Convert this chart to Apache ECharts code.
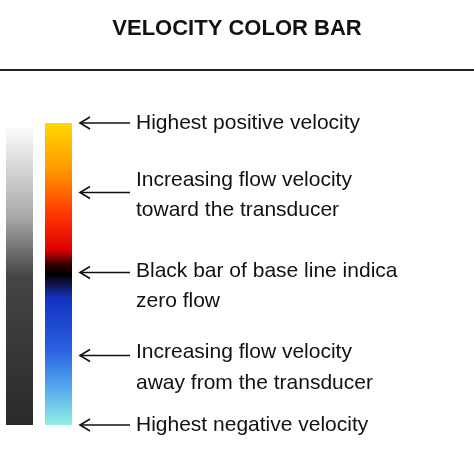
<!DOCTYPE html>
<html><head><meta charset="utf-8">
<script src="https://cdn.jsdelivr.net/npm/echarts@6/dist/echarts.min.js"></script>
<style>html,body{margin:0;padding:0;background:#fff}#c{width:474px;height:474px}</style>
</head><body><div id="c"></div>
<script>
const categories = ['gray', 'velocity'];
const barValues = [98.3, 100];
const labelTexts = [
  ['Highest positive velocity'],
  ['Increasing flow velocity', 'toward the transducer'],
  ['Black bar of base line indica', 'zero flow'],
  ['Increasing flow velocity', 'away from the transducer'],
  ['Highest negative velocity']
];
const arrowValues = [100, 77, 50.5, 23, 0];
const labelValues = [[100], [81, 71], [51, 41], [24, 14], [0]];

const chart = echarts.init(document.getElementById('c'));
const grad = (stops) => new echarts.graphic.LinearGradient(0, 0, 0, 1, stops.map(s => ({offset: s[0], color: s[1]})));
const barTop = 123, barBottom = 425;
const yPix = v => barBottom - (barBottom - barTop) * v / 100;
const graphics = [
  {type: 'text', left: 'center', top: 18, style: {text: 'VELOCITY COLOR BAR', font: 'bold 22px "Liberation Sans", Arial', fill: '#111'}},
  {type: 'line', shape: {x1: 0, y1: 70, x2: 474, y2: 70}, style: {stroke: '#222', lineWidth: 2}}
];
arrowValues.forEach(v => {
  const y = yPix(v);
  graphics.push({type: 'line', shape: {x1: 80, y1: y, x2: 130, y2: y}, style: {stroke: '#111', lineWidth: 1.6}});
  graphics.push({type: 'polyline', shape: {points: [[90, y - 6], [80, y], [90, y + 6]]}, style: {stroke: '#111', lineWidth: 1.6, fill: null}});
});
labelTexts.forEach((lines, i) => {
  lines.forEach((t, j) => {
    graphics.push({type: 'text', x: 136, y: yPix(labelValues[i][j]), style: {text: t, font: '21px "Liberation Sans", Arial', fill: '#111', verticalAlign: 'middle'}});
  });
});
chart.setOption({
  animation: false,
  grid: {left: -2, width: 80, top: barTop, bottom: 474 - barBottom},
  xAxis: {type: 'category', data: categories, show: false},
  yAxis: {type: 'value', min: 0, max: 100, show: false},
  series: [{
    type: 'bar', barWidth: 27,
    data: [
      {value: barValues[0], itemStyle: {color: grad([[0, '#fbfbfb'], [0.3, '#a8a8a8'], [0.5, '#454545'], [1, '#2a2a2a']])}},
      {value: barValues[1], itemStyle: {color: grad([[0, '#ffd800'], [0.15, '#ff9c00'], [0.3, '#ff3800'], [0.42, '#dd0000'], [0.47, '#300000'], [0.5, '#000'], [0.53, '#101040'], [0.58, '#1232c0'], [0.75, '#2a60e0'], [0.88, '#55aaf0'], [1, '#90f0e0']])}}
    ]
  }],
  graphic: graphics
});
</script></body></html>
